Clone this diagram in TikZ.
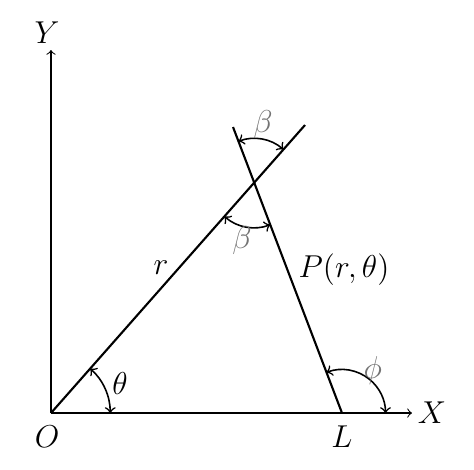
\documentclass[tikz,border=0pt]{standalone}
\usepackage{amsmath}
\usepackage{tikz}

\begin{document}
\begin{tikzpicture}[font=\large]
	\tikzstyle{axis}=[->,thin]
	\tikzstyle{ray}=[thick]
	\tikzstyle{angarc}=[<->,semithick]
	\tikzstyle{anglabel}=[text=black!55]
	\useasboundingbox (-0.68,-0.747) rectangle (5.64,5.507);
	\coordinate (O) at (0,0);
	\coordinate (L) at (3.88,0);
	\coordinate (Xend) at (4.813,0);
	\coordinate (Yend) at (0,4.84);
	\coordinate (A) at (3.387,3.84);
	\coordinate (B) at (2.427,3.813);
	\coordinate (I) at (2.709,3.071);
	% axes
	\draw[axis] (O) -- (Xend);
	\draw[axis] (O) -- (Yend);
	\node (X) at (5.08,0) {$X$};
	\node (Y) at (-0.053,5.067) {$Y$};
	\node (Olab) at (-0.053,-0.32) {$O$};
	\node (Llab) at (3.88,-0.32) {$L$};
	% the two lines
	\draw[ray] (O) -- (A);
	\draw[ray] (L) -- (B);
	\node (rlab) at (1.467,1.933) {$r$};
	\node (P) at (3.907,1.907) {$P(r,\theta)$};
	% angles
	\draw[angarc] ([shift=(48.6:0.79)]O) arc (48.6:0:0.79);
	\node (th) at (0.92,0.4) {$\theta$};
	\draw[angarc] ([shift=(110.9:0.58)]L) arc (110.9:0:0.58);
	\node[anglabel] (ph) at (4.29,0.57) {$\phi$};
	\draw[angarc] ([shift=(228.6:0.6)]I) arc (228.6:290.9:0.6);
	\node[anglabel] (b1) at (2.547,2.293) {$\beta$};
	\draw[angarc] ([shift=(110.9:0.59)]I) arc (110.9:48.6:0.59);
	\node[anglabel] (b2) at (2.827,3.84) {$\beta$};
\end{tikzpicture}
\end{document}
